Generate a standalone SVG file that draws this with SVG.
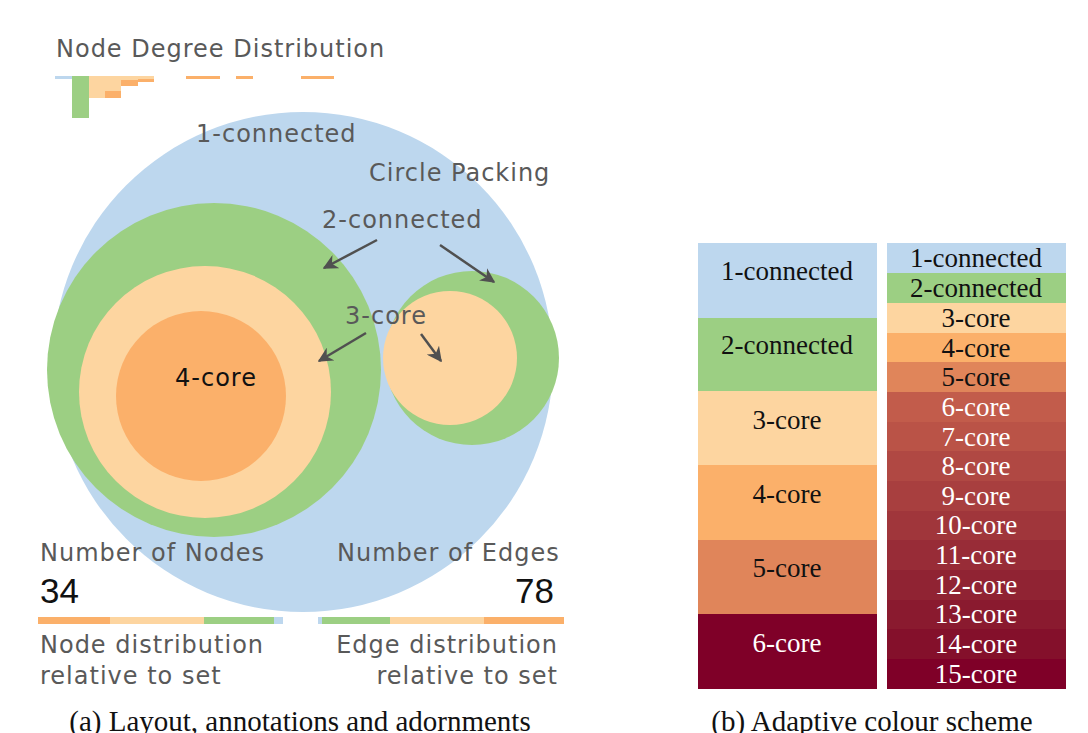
<svg xmlns="http://www.w3.org/2000/svg" width="1088" height="733" viewBox="0 0 1088 733">
<style>
.s{font-family:"DejaVu Sans",sans-serif;fill:#595959;font-size:24px;letter-spacing:1px}
.t{font-family:"Liberation Serif",serif;fill:#111;font-size:27px;text-anchor:middle}
.a{stroke:#505050;stroke-width:2.5;fill:none}
</style>
<defs><marker id="m" viewBox="0 0 10 10" refX="9" refY="5" markerWidth="6" markerHeight="6" orient="auto"><path d="M0,0L10,5L0,10L3,5z" fill="#505050"/></marker></defs>
<rect width="1088" height="733" fill="#fff"/>
<g id="hist">
<text class="s" x="56" y="57">Node Degree Distribution</text>
<rect x="55" y="76" width="17" height="3" fill="#bdd7ee"/>
<rect x="72" y="76" width="17" height="42" fill="#9ccf83"/>
<rect x="89" y="76" width="32" height="22" fill="#fdd5a0"/>
<rect x="121" y="76" width="33" height="5" fill="#fdd5a0"/>
<rect x="105" y="91" width="16" height="7" fill="#fbb06a"/>
<rect x="121" y="80" width="17" height="6" fill="#fbb06a"/>
<rect x="138" y="79" width="16" height="3" fill="#fbb06a"/>
<rect x="186" y="76" width="34" height="3" fill="#fbb06a"/>
<rect x="236" y="76" width="17" height="3" fill="#fbb06a"/>
<rect x="301" y="76" width="33" height="3" fill="#fbb06a"/>
</g>
<g id="circles">
<circle cx="303" cy="362" r="250" fill="#bdd7ee"/>
<circle cx="214" cy="370" r="167" fill="#9ccf83"/>
<circle cx="205" cy="392" r="126" fill="#fdd5a0"/>
<circle cx="201" cy="396" r="85" fill="#fbb06a"/>
<circle cx="472" cy="358" r="87" fill="#9ccf83"/>
<circle cx="450" cy="358" r="67" fill="#fdd5a0"/>
<text class="s" x="196" y="142">1-connected</text>
<text class="s" x="369" y="181">Circle Packing</text>
<text class="s" x="322" y="228">2-connected</text>
<text class="s" x="345" y="324">3-core</text>
<text class="s" x="175" y="386" style="fill:#111">4-core</text>
</g>
<g id="connectors">
<line class="a" x1="377" y1="240" x2="324" y2="268" marker-end="url(#m)"/>
<line class="a" x1="440" y1="245" x2="494" y2="282" marker-end="url(#m)"/>
<line class="a" x1="366" y1="333" x2="319" y2="361" marker-end="url(#m)"/>
<line class="a" x1="421" y1="334" x2="441" y2="361" marker-end="url(#m)"/>
</g>
<g id="stats">
<text class="s" x="40" y="561">Number of Nodes</text>
<text class="s" x="337" y="561">Number of Edges</text>
<text x="40" y="603" style="font-family:'Liberation Sans',sans-serif;font-size:35px;fill:#111">34</text>
<text x="554" y="603" text-anchor="end" style="font-family:'Liberation Sans',sans-serif;font-size:35px;fill:#111">78</text>
<rect x="38" y="617" width="72" height="7" fill="#fbb06a"/>
<rect x="110" y="617" width="94" height="7" fill="#fdd5a0"/>
<rect x="204" y="617" width="70" height="7" fill="#9ccf83"/>
<rect x="274" y="617" width="9" height="7" fill="#bdd7ee"/>
<rect x="318" y="617" width="4" height="7" fill="#bdd7ee"/>
<rect x="322" y="617" width="68" height="7" fill="#9ccf83"/>
<rect x="390" y="617" width="94" height="7" fill="#fdd5a0"/>
<rect x="484" y="617" width="80" height="7" fill="#fbb06a"/>
<text class="s" x="40" y="653">Node distribution</text>
<text class="s" x="40" y="684">relative to set</text>
<text class="s" x="558" y="653" text-anchor="end">Edge distribution</text>
<text class="s" x="558" y="684" text-anchor="end">relative to set</text>
<text class="t" x="300" y="731" style="font-size:29px">(a) Layout, annotations and adornments</text>
<text class="t" x="872" y="731" style="font-size:29px">(b) Adaptive colour scheme</text>
</g>
<g id="scheme1">
<rect x="698" y="243" width="179" height="75" fill="#bdd7ee"/>
<rect x="698" y="318" width="179" height="73" fill="#9ccf83"/>
<rect x="698" y="391" width="179" height="74" fill="#fdd5a0"/>
<rect x="698" y="465" width="179" height="75" fill="#fbb06a"/>
<rect x="698" y="540" width="179" height="74" fill="#e0855a"/>
<rect x="698" y="614" width="179" height="75" fill="#7f0028"/>
<text class="t" x="787" y="280">1-connected</text>
<text class="t" x="787" y="354">2-connected</text>
<text class="t" x="787" y="429">3-core</text>
<text class="t" x="787" y="503">4-core</text>
<text class="t" x="787" y="577">5-core</text>
<text class="t" x="787" y="652" style="fill:#fff">6-core</text>
</g>
<g id="scheme2">
<rect x="887" y="243" width="179" height="30" fill="#bdd7ee"/>
<rect x="887" y="273" width="179" height="30" fill="#9ccf83"/>
<rect x="887" y="303" width="179" height="30" fill="#fdd5a0"/>
<rect x="887" y="333" width="179" height="29" fill="#fbb06a"/>
<rect x="887" y="362" width="179" height="30" fill="#e0855a"/>
<rect x="887" y="392" width="179" height="30" fill="#c25c4b"/>
<rect x="887" y="422" width="179" height="29" fill="#ba5347"/>
<rect x="887" y="451" width="179" height="30" fill="#b04843"/>
<rect x="887" y="481" width="179" height="30" fill="#a83f3f"/>
<rect x="887" y="511" width="179" height="29" fill="#a0363b"/>
<rect x="887" y="540" width="179" height="30" fill="#982c37"/>
<rect x="887" y="570" width="179" height="30" fill="#902333"/>
<rect x="887" y="600" width="179" height="29" fill="#8a1a2f"/>
<rect x="887" y="629" width="179" height="30" fill="#84102b"/>
<rect x="887" y="659" width="179" height="30" fill="#7f0028"/>
<text class="t" x="976" y="267">1-connected</text>
<text class="t" x="976" y="297">2-connected</text>
<text class="t" x="976" y="327">3-core</text>
<text class="t" x="976" y="357">4-core</text>
<text class="t" x="976" y="386">5-core</text>
<text class="t" x="976" y="416" style="fill:#fff">6-core</text>
<text class="t" x="976" y="446" style="fill:#fff">7-core</text>
<text class="t" x="976" y="475" style="fill:#fff">8-core</text>
<text class="t" x="976" y="505" style="fill:#fff">9-core</text>
<text class="t" x="976" y="534" style="fill:#fff">10-core</text>
<text class="t" x="976" y="564" style="fill:#fff">11-core</text>
<text class="t" x="976" y="594" style="fill:#fff">12-core</text>
<text class="t" x="976" y="623" style="fill:#fff">13-core</text>
<text class="t" x="976" y="653" style="fill:#fff">14-core</text>
<text class="t" x="976" y="683" style="fill:#fff">15-core</text>
</g>
</svg>
